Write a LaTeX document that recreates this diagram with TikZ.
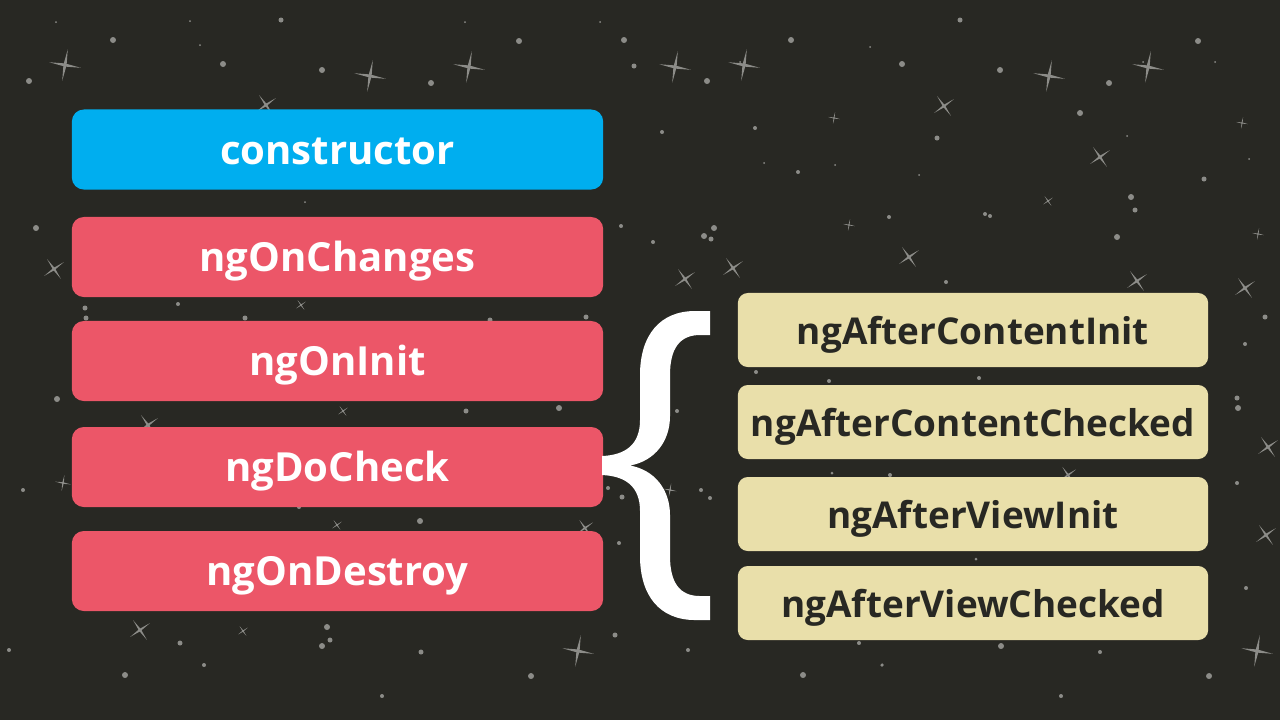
\documentclass[tikz,border=0pt]{standalone}
\usepackage{fontspec}
\setmainfont{Open Sans}
\usepackage{xcolor}
\usepackage{tikz}
\definecolor{bg}{HTML}{282823}
\definecolor{star}{HTML}{8C8C88}
\definecolor{ctorblue}{HTML}{00AEEF}
\definecolor{hookred}{HTML}{EC5668}
\definecolor{childbeige}{HTML}{E9DFAA}
\definecolor{ink}{HTML}{282823}
\tikzset{
  hook/.style={rounded corners=0.12cm, inner sep=0pt, minimum width=5.31cm, minimum height=0.8cm,
    text height=0.86em, text depth=0.02em,
    text=white, font=\bfseries\fontsize{11.4}{14}\selectfont},
  ctorbox/.style={hook, fill=ctorblue},
  redbox/.style={hook, fill=hookred},
  childbox/.style={rounded corners=0.1cm, inner sep=0pt, minimum width=4.7cm, minimum height=0.74cm,
    text height=0.84em, text depth=0.02em,
    fill=childbeige, text=ink, font=\bfseries\fontsize{10.5}{13}\selectfont},
  dotstar/.style={fill=star},
  bracefill/.style={fill=white}
}
\newcommand{\sparkle}[4]{%
  \fill[dotstar, shift={(#1,#2)}, rotate=#4, scale=#3]
    (0,1) -- (0.09,0.09) -- (1,0) -- (0.09,-0.09) -- (0,-1) -- (-0.09,-0.09) -- (-1,0) -- (-0.09,0.09) -- cycle;}
\begin{document}
\begin{tikzpicture}[x=0.01cm,y=-0.01cm]
  \fill[bg] (0,0) rectangle (1280,720);
  \useasboundingbox (0,0) rectangle (1280,720);
  % background stars
  \foreach \x/\y/\r in {113/40/3,519/41/3,624/40/3,791/40/3,1198/41/3,223/64/3,322/70/3,431/83/3,
    902/64/3,1000/70/3,1109/83/3,29/81/3,707/81/3,281/20/2.5,960/20/2.5,634/66/2.5,1080/113/3,
    937/138/2.5,1204/179/2.5,1131/197/3,1135/210/2.5,1117/237/3,714/228/3,704/236/3,711/239/2.5,
    36/228/3,57/399/3,327/627/3,330/640/2.5,322/646/3,421/652/2.5,531/676/3,125/675/3,180/643/2.5,
    615/635/2.5,803/675/3,1001/646/3,1209/676/3,1237/398/2.5,1238/408/3,466/411/2.5,559/408/3,
    420/521/3,245/318/2.5,490/320/2.5,586/317/2.5,85/308/2.5,86/318/2.5,1265/317/2.5,622/497/2.5,
    619/543/2,756/372/2,979/378/2,608/488/2,798/172/2,662/132/2,755/128/2,985/214/2,990/216/2,
    889/217/2,946/282/2,621/226/2,653/242/2,23/490/2,9/650/2,204/665/2,382/696/2,688/650/2,
    859/643/2,882/665/1.8,1100/652/2,1061/696/2,1245/344/2,1237/483/2,1246/588/2,677/411/2,
    701/490/2,710/498/2,829/381/2,890/475/2,832/473/1.5,976/559/1.5,178/304/2,299/507/2,
    56/22/1,190/21/1,465/22/1,1143/62/1,1215/62/1,740/62/1,870/47/1,200/45/1,835/165/1,
    1249/159/1,1127/136/1,919/175/1,764/163/1,305/202/1,600/22/1}
    \fill[dotstar] (\x,\y) circle (\r);
  \foreach \x/\y/\s/\a in {65/65/16/-10,370/76/16/-10,469/67/16/-10,675/67/16/-10,744/65/16/-10,
    1049/76/16/-10,1148/67/16/-10,834/118/6/-10,1242/123/6/-10,849/225/6/-10,1258/234/6/-10,
    578/651/16/-10,1257/651/16/-10,63/483/8/-10,670/490/7/-10}
    \sparkle{\x}{\y}{\s}{\a};
  \foreach \x/\y/\s in {266/105/12,944/106/12,1100/157/12,1048/201/6,909/257/12,733/268/12,
    685/279/12,1137/281/12,1245/288/12,54/269/12,140/630/12,243/631/6,301/305/6,343/411/6,
    337/525/6,148/425/12,585/528/10,1268/447/12,1266/535/12,1068/475/10}
    \sparkle{\x}{\y}{\s}{35};
  % lifecycle hooks
  \node[ctorbox] (ctor) at (337.5,149.5) {constructor};
  \node[redbox] (changes) at (337.5,257) {ngOnChanges};
  \node[redbox] (init) at (337.5,361) {ngOnInit};
  \node[redbox] (docheck) at (337.5,467) {ngDoCheck};
  \node[redbox] (destroy) at (337.5,571) {ngOnDestroy};
  \node[childbox] (acinit) at (973,330) {ngAfterContentInit};
  \node[childbox] (acchecked) at (973,422) {ngAfterContentChecked};
  \node[childbox] (avinit) at (973,514) {ngAfterViewInit};
  \node[childbox] (avchecked) at (973,603) {ngAfterViewChecked};
  % brace
  \fill[bracefill] (710,311) -- (695,311) .. controls (660,311) and (640,335) .. (640,375)
    -- (640,420) .. controls (640,445) and (625,455) .. (602,456) -- (602,475)
    .. controls (625,476) and (640,486) .. (640,511) -- (640,556)
    .. controls (640,596) and (660,620) .. (695,620) -- (710,620) -- (710,596) -- (700,596)
    .. controls (680,596) and (670,583) .. (670,556) -- (670,515)
    .. controls (670,490) and (655,470) .. (630,465.5)
    .. controls (655,461) and (670,441) .. (670,416) -- (670,375)
    .. controls (670,348) and (680,335) .. (700,335) -- (710,335) -- cycle;
\end{tikzpicture}
\end{document}
